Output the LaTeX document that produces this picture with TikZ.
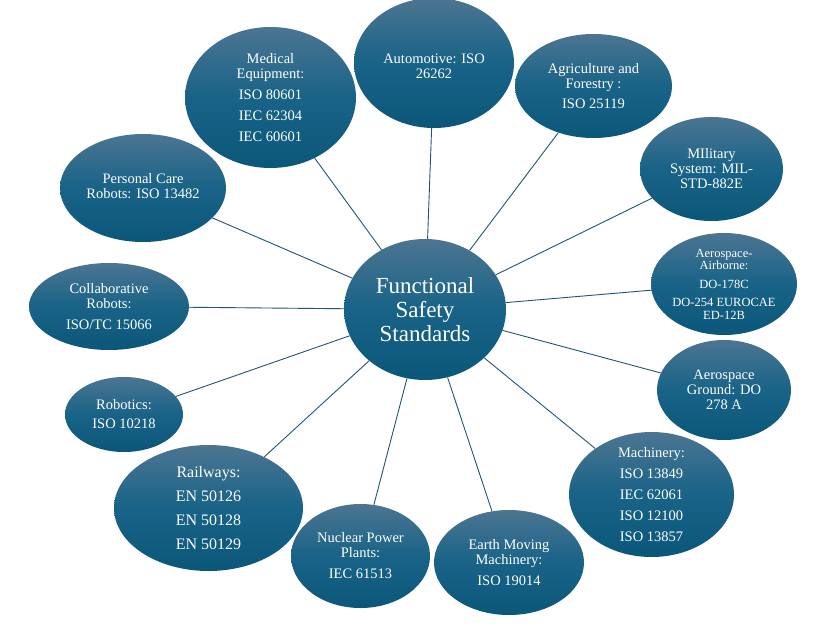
\documentclass[tikz,border=0pt]{standalone}
\usepackage{fontspec}
\setmainfont{Liberation Serif}
\usetikzlibrary{shapes.geometric}
\definecolor{ctop}{RGB}{76,117,146}
\definecolor{cmid}{RGB}{24,99,135}
\definecolor{cbot}{RGB}{11,87,122}
\definecolor{cline}{RGB}{35,85,115}
\tikzset{
  ell/.style={ellipse, inner sep=0pt, draw=none, top color=ctop, bottom color=cbot, middle color=cmid},
  txt/.style={text=white, align=center, inner sep=0pt},
  conn/.style={draw=cline, line width=0.9pt},
  fA/.style={font=\fontsize{14.5}{15}\selectfont},
  fB/.style={font=\fontsize{12.5}{12.5}\selectfont},
  fC/.style={font=\fontsize{16}{18}\selectfont},
  fD/.style={font=\fontsize{23}{24}\selectfont},
}
\begin{document}
\begin{tikzpicture}[x=1pt,y=-1pt]
\useasboundingbox (0,0) rectangle (835,642);
% ellipses
\node[ell, minimum width=162pt, minimum height=141pt] (c) at (425,309.5) {};
\node[ell, minimum width=171pt, minimum height=141pt] (med) at (270.5,97.5) {};
\node[ell, minimum width=160pt, minimum height=130pt] (auto) at (434,63) {};
\node[ell, minimum width=157pt, minimum height=104pt] (agri) at (593.5,86) {};
\node[ell, minimum width=143pt, minimum height=104pt] (mil) at (711.5,169) {};
\node[ell, minimum width=146pt, minimum height=102pt] (air) at (724,284) {};
\node[ell, minimum width=134pt, minimum height=100pt] (gnd) at (724,390) {};
\node[ell, minimum width=166pt, minimum height=108pt] (pers) at (143,188) {};
\node[ell, minimum width=160pt, minimum height=87pt] (coll) at (109,306.5) {};
\node[ell, minimum width=118pt, minimum height=75pt] (rob) at (124,414.5) {};
\node[ell, minimum width=189pt, minimum height=126pt] (rail) at (208.5,508) {};
\node[ell, minimum width=139pt, minimum height=104pt] (nuc) at (360.5,556) {};
\node[ell, minimum width=150pt, minimum height=105pt] (earth) at (509,562.5) {};
\node[ell, minimum width=165pt, minimum height=125pt] (mach) at (651.5,494.5) {};
% connectors
\foreach \n in {med,auto,agri,mil,air,gnd,pers,coll,rob,rail,nuc,earth,mach}
  \draw[conn] (c) -- (\n);
% texts
\node[txt, fD] (cT) at (c) {Functional\\Safety\\Standards};
\node[txt, fA] (medT) at (med) {Medical\\Equipment:\\[6pt]ISO 80601\\[6pt]IEC 62304\\[6pt]IEC 60601};
\node[txt, fA] (autoT) at (434,66) {Automotive: ISO\\26262};
\node[txt, fA] (agriT) at (agri) {Agriculture and\\Forestry :\\[5pt]ISO 25119};
\node[txt, fA] (milT) at (mil) {MIlitary\\System: MIL-\\STD-882E};
\node[txt, fB] (airT) at (air) {Aerospace-\\Airborne:\\[6pt]DO-178C\\[6pt]DO-254 EUROCAE\\ED-12B};
\node[txt, fA] (gndT) at (gnd) {Aerospace\\Ground: DO\\278 A};
\node[txt, fA] (persT) at (143,186) {Personal Care\\Robots: ISO 13482};
\node[txt, fA] (collT) at (coll) {Collaborative\\Robots:\\[6pt]ISO/TC 15066};
\node[txt, fA] (robT) at (rob) {Robotics:\\[4pt]ISO 10218};
\node[txt, fC] (railT) at (rail) {Railways:\\[6pt]EN 50126\\[6pt]EN 50128\\[6pt]EN 50129};
\node[txt, fA] (nucT) at (nuc) {Nuclear Power\\Plants:\\[6pt]IEC 61513};
\node[txt, fA] (earthT) at (earth) {Earth Moving\\Machinery:\\[6pt]ISO 19014};
\node[txt, fA] (machT) at (mach) {Machinery:\\[6pt]ISO 13849\\[6pt]IEC 62061\\[6pt]ISO 12100\\[6pt]ISO 13857};
\end{tikzpicture}
\end{document}
